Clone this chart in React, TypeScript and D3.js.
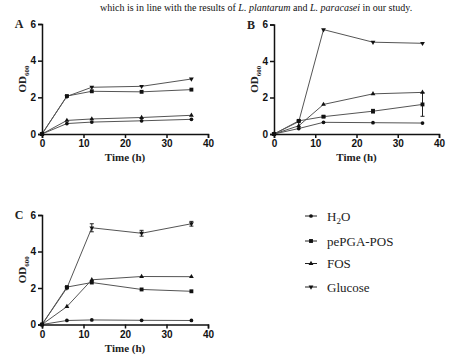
import * as d3 from "d3";
import { useEffect, useRef } from "react";

// время отбора проб, ч
const hours = [0, 6, 12, 24, 36];
const xTicks = [0, 10, 20, 30, 40];
const yTicks = [0, 2, 4, 6];
const seriesNames = ["H2O", "pePGA-POS", "FOS", "Glucose"];

// панель A
const aH2O = [0, 0.57, 0.65, 0.72, 0.8];
const aPOS = [0, 2.07, 2.33, 2.3, 2.42];
const aFOS = [0, 0.74, 0.82, 0.9, 1.02];
const aGlucose = [0, 2.05, 2.55, 2.6, 3.0];

// панель B
const bH2O = [0, 0.3, 0.64, 0.62, 0.6];
const bPOS = [0, 0.72, 0.95, 1.25, 1.62];
const bPOSErr = [0, 0.06, 0.05, 0.1, 0.65];
const bFOS = [0, 0.45, 1.62, 2.2, 2.28];
const bGlucose = [0, 0.68, 5.72, 5.03, 4.97];

// панель C
const cH2O = [0, 0.22, 0.25, 0.23, 0.22];
const cPOS = [0, 2.05, 2.3, 1.92, 1.82];
const cFOS = [0, 0.98, 2.45, 2.63, 2.62];
const cGlucose = [0, 2.0, 5.3, 5.0, 5.52];
const cGlucoseErr = [0, 0.05, 0.22, 0.16, 0.13];

const symbols = [d3.symbolCircle, d3.symbolSquare, d3.symbolTriangle, d3.symbolTriangle];
const symbolSizes = [11, 15, 10, 10];

const panels = [
  { label: "A", x0: 42, x1: 208, yTop: 24, yBot: 134, series: [aH2O, aPOS, aFOS, aGlucose], errs: [null, null, null, null] },
  { label: "B", x0: 274, x1: 439, yTop: 24.5, yBot: 134, series: [bH2O, bPOS, bFOS, bGlucose], errs: [null, bPOSErr, null, null] },
  { label: "C", x0: 42, x1: 208, yTop: 215, yBot: 324.5, series: [cH2O, cPOS, cFOS, cGlucose], errs: [null, null, null, cGlucoseErr] },
];

const lineColor = "#555";

const addMarker = (g, i, x, y) => {
  g.append("path")
    .attr("d", d3.symbol(symbols[i], symbolSizes[i])())
    .attr("transform", `translate(${x},${y})${i === 3 ? " rotate(180)" : ""}`)
    .attr("fill", "#111");
};

const App = () => {
  const ref = useRef(null);

  useEffect(() => {
    const svg = d3.select(ref.current);
    svg.selectAll("*").remove();

    // строка текста статьи сверху
    const head = svg.append("text")
      .attr("x", 100)
      .attr("y", 11)
      .attr("font-family", "Liberation Serif")
      .attr("font-size", 10)
      .attr("fill", "#111");
    head.append("tspan").text("which is in line with the results of ");
    head.append("tspan").attr("font-style", "italic").text("L. plantarum");
    head.append("tspan").text(" and ");
    head.append("tspan").attr("font-style", "italic").text("L. paracasei");
    head.append("tspan").text(" in our study.");

    panels.forEach((p) => {
      const x = d3.scaleLinear().domain([0, 40]).range([p.x0, p.x1]);
      const y = d3.scaleLinear().domain([0, 6]).range([p.yBot, p.yTop]);
      const g = svg.append("g");

      // линии серий
      const line = d3.line<number>()
        .x((_, i) => x(hours[i]))
        .y((d) => y(d));

      p.series.forEach((vals) => {
        g.append("path")
          .attr("d", line(vals))
          .attr("fill", "none")
          .attr("stroke", lineColor)
          .attr("stroke-width", 1);
      });

      // планки погрешностей
      p.errs.forEach((err, si) => {
        if (!err) return;
        err.forEach((e, i) => {
          if (e <= 0) return;
          const v = p.series[si][i];
          const cx = x(hours[i]);
          g.append("line")
            .attr("x1", cx).attr("x2", cx)
            .attr("y1", y(v - e)).attr("y2", y(v + e))
            .attr("stroke", "#222").attr("stroke-width", 1);
          [v - e, v + e].forEach((yy) => {
            g.append("line")
              .attr("x1", cx - 2).attr("x2", cx + 2)
              .attr("y1", y(yy)).attr("y2", y(yy))
              .attr("stroke", "#222").attr("stroke-width", 1);
          });
        });
      });

      // маркеры
      p.series.forEach((vals, si) => {
        vals.forEach((v, i) => addMarker(g, si, x(hours[i]), y(v)));
      });

      // оси
      const xAxis = g.append("g")
        .attr("transform", `translate(0,${p.yBot})`)
        .call(d3.axisBottom(x).tickValues(xTicks).tickFormat(d3.format("d")).tickSize(4).tickPadding(2));
      const yAxis = g.append("g")
        .attr("transform", `translate(${p.x0},0)`)
        .call(d3.axisLeft(y).tickValues(yTicks).tickFormat(d3.format("d")).tickSize(4).tickPadding(2));
      [xAxis, yAxis].forEach((ax) => {
        ax.select(".domain").attr("stroke", "#111").attr("stroke-width", 1.5);
        ax.selectAll(".tick line").attr("stroke", "#111").attr("stroke-width", 1.5);
        ax.selectAll(".tick text")
          .attr("font-family", "Liberation Sans")
          .attr("font-weight", "bold")
          .attr("font-size", 10)
          .attr("fill", "#111");
      });

      // подписи осей
      g.append("text")
        .attr("x", (p.x0 + p.x1) / 2)
        .attr("y", p.yBot + 27)
        .attr("text-anchor", "middle")
        .attr("font-family", "Liberation Serif")
        .attr("font-weight", "bold")
        .attr("font-size", 11)
        .attr("fill", "#222")
        .text("Time (h)");

      const yl = g.append("text")
        .attr("transform", `translate(${p.x0 - 16},${(p.yTop + p.yBot) / 2}) rotate(-90)`)
        .attr("text-anchor", "middle")
        .attr("font-family", "Liberation Serif")
        .attr("font-weight", "bold")
        .attr("font-size", 11)
        .attr("fill", "#222");
      yl.append("tspan").text("OD");
      yl.append("tspan").attr("font-size", 7).attr("dy", 3).text("600");

      g.append("text")
        .attr("x", p.x0 - 23)
        .attr("y", p.yTop + 4)
        .attr("text-anchor", "middle")
        .attr("font-family", "Liberation Serif")
        .attr("font-weight", "bold")
        .attr("font-size", 12)
        .attr("fill", "#222")
        .text(p.label);
    });

    // легенда
    const legend = svg.append("g").attr("transform", "translate(305,216)");
    const rowY = [0, 25, 47.5, 71];
    seriesNames.forEach((name, i) => {
      const row = legend.append("g").attr("transform", `translate(0,${rowY[i]})`);
      row.append("line")
        .attr("x1", 0).attr("x2", 12)
        .attr("stroke", "#222").attr("stroke-width", 1);
      addMarker(row, i, 6, 0);
      const t = row.append("text")
        .attr("x", 22)
        .attr("y", 4.5)
        .attr("font-family", "Liberation Serif")
        .attr("font-size", 13)
        .attr("fill", "#222");
      if (name === "H2O") {
        t.append("tspan").text("H");
        t.append("tspan").attr("font-size", 9).attr("dy", 3).text("2");
        t.append("tspan").attr("dy", -3).text("O");
      } else {
        t.text(name);
      }
    });
  }, []);

  return (
    <svg
      ref={ref}
      width={474}
      height={361}
      style={{ position: "absolute", left: 0, top: 0, background: "#fff" }}
    />
  );
};

export default App;
